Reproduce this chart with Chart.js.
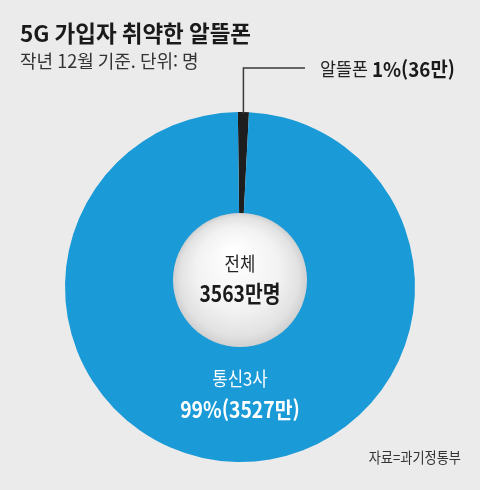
<!DOCTYPE html>
<html lang="ko">
<head>
<meta charset="utf-8">
<script src="https://cdn.jsdelivr.net/npm/chart.js@4.4.1/dist/chart.umd.min.js"></script>
<style>
  html, body { margin: 0; padding: 0; background: #ebebeb; }
  #wrap { width: 480px; height: 490px; position: relative; }
</style>
</head>
<body>
<div id="wrap"><canvas id="mvnoChart" width="480" height="490"></canvas></div>
<script>
// 5G 가입자 (작년 12월 기준, 만명)
const segmentLabels = ['알뜰폰', '통신3사'];
const subscribers = [36, 3527];
const shareLabels = ['1%', '99%'];
const totalCaption = '전체';
const totalValue = '3563만명';

const titleText = '5G 가입자 취약한 알뜰폰';
const subtitleText = '작년 12월 기준. 단위: 명';
const sourceText = '자료=과기정통부';

const FONT = '"Noto Sans CJK KR", "Noto Sans", sans-serif';

// draws horizontally squeezed text, returns drawn width
function putText(ctx, text, x, y, size, weight, color, align, squeeze) {
  const sq = squeeze || 0.88;
  ctx.save();
  ctx.font = `${weight} ${size}px ${FONT}`;
  ctx.fillStyle = color;
  ctx.textBaseline = 'middle';
  const w = ctx.measureText(text).width * sq;
  let left = x;
  if (align === 'center') left = x - w / 2;
  else if (align === 'right') left = x - w;
  ctx.translate(left, y);
  ctx.scale(sq, 1);
  ctx.textAlign = 'left';
  ctx.fillText(text, 0, 0);
  ctx.restore();
  return w;
}

const overlayPlugin = {
  id: 'overlay',
  beforeDraw(chart) {
    const ctx = chart.ctx;
    ctx.save();
    ctx.fillStyle = '#ebebeb';
    ctx.fillRect(0, 0, chart.width, chart.height);
    ctx.restore();
  },
  afterDraw(chart) {
    const ctx = chart.ctx;
    const arcs = chart.getDatasetMeta(0).data;
    const small = arcs[0];
    const cx = small.x, cy = small.y, r = small.outerRadius;

    // leader line from the small slice
    const mid = (small.startAngle + small.endAngle) / 2;
    const lx = cx + Math.cos(mid) * r;
    const ly = cy + Math.sin(mid) * r;
    ctx.save();
    ctx.strokeStyle = '#3a3a3a';
    ctx.lineWidth = 1.5;
    ctx.beginPath();
    ctx.moveTo(lx, ly + 2);
    ctx.lineTo(lx, 68);
    ctx.lineTo(305, 68);
    ctx.stroke();
    ctx.restore();

    // label for the small slice
    const nameW = putText(ctx, segmentLabels[0] + ' ', 320, 69, 18.5, 'normal', '#222', 'left', 0.94);
    putText(ctx, `${shareLabels[0]}(${subscribers[0]}만)`, 320 + nameW, 69, 20, 'bold', '#1a1a1a', 'left', 0.94);

    // centre ball
    const bx = cx, by = cy - 7, br = 67;
    ctx.save();
    const g = ctx.createRadialGradient(bx - 6, by - 28, 4, bx, by, br);
    g.addColorStop(0, '#ffffff');
    g.addColorStop(0.6, '#f2f2f2');
    g.addColorStop(0.88, '#e2e2e2');
    g.addColorStop(1, '#d0d0d0');
    ctx.fillStyle = g;
    ctx.beginPath();
    ctx.arc(bx, by, br, 0, Math.PI * 2);
    ctx.fill();
    ctx.restore();

    putText(ctx, totalCaption, bx, by - 16, 19, 'normal', '#222', 'center');
    putText(ctx, totalValue, bx, by + 13, 23, 'bold', '#1a1a1a', 'center', 0.84);

    // big slice label
    putText(ctx, segmentLabels[1], cx, cy + 92, 19, 'normal', '#ffffff', 'center');
    putText(ctx, `${shareLabels[1]}(${subscribers[1]}만)`, cx, cy + 123, 22, 'bold', '#ffffff', 'center');

    // titles and source
    putText(ctx, titleText, 20, 33, 22.5, 'bold', '#1a1a1a', 'left', 1);
    putText(ctx, subtitleText, 20, 61, 18, 'normal', '#333', 'left', 1);
    putText(ctx, sourceText, 461, 457, 15, 'normal', '#333', 'right');
  }
};

new Chart(document.getElementById('mvnoChart'), {
  type: 'doughnut',
  data: {
    labels: segmentLabels,
    datasets: [{
      data: subscribers,
      backgroundColor: ['#1e1e1e', '#1a9ad6'],
      borderWidth: 0
    }]
  },
  options: {
    responsive: false,
    animation: false,
    rotation: -0.7,
    cutout: '30%',
    layout: { padding: { left: 65, right: 65, top: 112, bottom: 28 } },
    plugins: {
      legend: { display: false },
      tooltip: { enabled: false }
    }
  },
  plugins: [overlayPlugin]
});
</script>
</body>
</html>
